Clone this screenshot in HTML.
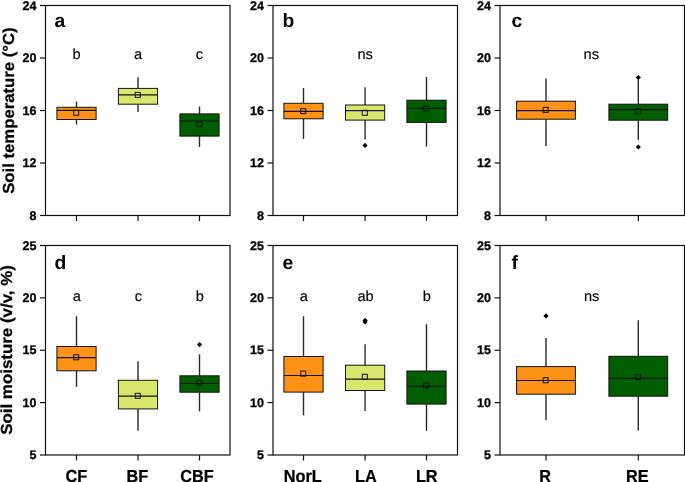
<!DOCTYPE html>
<html><head><meta charset="utf-8"><title>Soil temperature and moisture box plots</title>
<style>html,body{margin:0;padding:0;background:#fff;}body{width:685px;height:482px;overflow:hidden;}svg{display:block;}text{text-rendering:geometricPrecision;}</style>
</head><body>
<svg width="685" height="482" viewBox="0 0 685 482"><rect width="685" height="482" fill="#fff"/><line x1="40.0" y1="5.5" x2="45.5" y2="5.5" stroke="#111" stroke-width="1.2"/><text x="36.5" y="9.6" text-anchor="end" font-family="'Liberation Sans', Arial, sans-serif" font-weight="bold" font-size="12.5" fill="#000" stroke="#000" stroke-width="0.3">24</text><line x1="40.0" y1="58.0" x2="45.5" y2="58.0" stroke="#111" stroke-width="1.2"/><text x="36.5" y="62.1" text-anchor="end" font-family="'Liberation Sans', Arial, sans-serif" font-weight="bold" font-size="12.5" fill="#000" stroke="#000" stroke-width="0.3">20</text><line x1="40.0" y1="110.5" x2="45.5" y2="110.5" stroke="#111" stroke-width="1.2"/><text x="36.5" y="114.6" text-anchor="end" font-family="'Liberation Sans', Arial, sans-serif" font-weight="bold" font-size="12.5" fill="#000" stroke="#000" stroke-width="0.3">16</text><line x1="40.0" y1="163.0" x2="45.5" y2="163.0" stroke="#111" stroke-width="1.2"/><text x="36.5" y="167.1" text-anchor="end" font-family="'Liberation Sans', Arial, sans-serif" font-weight="bold" font-size="12.5" fill="#000" stroke="#000" stroke-width="0.3">12</text><line x1="40.0" y1="215.5" x2="45.5" y2="215.5" stroke="#111" stroke-width="1.2"/><text x="36.5" y="219.6" text-anchor="end" font-family="'Liberation Sans', Arial, sans-serif" font-weight="bold" font-size="12.5" fill="#000" stroke="#000" stroke-width="0.3">8</text><line x1="76.5" y1="215.5" x2="76.5" y2="221.0" stroke="#111" stroke-width="1.2"/><line x1="138.0" y1="215.5" x2="138.0" y2="221.0" stroke="#111" stroke-width="1.2"/><line x1="199.5" y1="215.5" x2="199.5" y2="221.0" stroke="#111" stroke-width="1.2"/><line x1="76.5" y1="101.6" x2="76.5" y2="107.3" stroke="#2a2a2a" stroke-width="1.4"/><line x1="76.5" y1="119.5" x2="76.5" y2="124.6" stroke="#2a2a2a" stroke-width="1.4"/><rect x="56.9" y="107.3" width="39.2" height="12.200000000000003" fill="#FE9216" stroke="#151515" stroke-width="1"/><line x1="56.9" y1="110.4" x2="96.1" y2="110.4" stroke="#151515" stroke-width="1.2"/><rect x="73.7" y="110.3" width="5" height="5" fill="none" stroke="#151515" stroke-width="1"/><line x1="138.0" y1="77.3" x2="138.0" y2="88.4" stroke="#2a2a2a" stroke-width="1.4"/><line x1="138.0" y1="104.2" x2="138.0" y2="112.0" stroke="#2a2a2a" stroke-width="1.4"/><rect x="118.4" y="88.4" width="39.2" height="15.799999999999997" fill="#D8E66C" stroke="#151515" stroke-width="1"/><line x1="118.4" y1="94.8" x2="157.6" y2="94.8" stroke="#151515" stroke-width="1.2"/><rect x="135.2" y="92.4" width="5" height="5" fill="none" stroke="#151515" stroke-width="1"/><line x1="199.5" y1="106.5" x2="199.5" y2="113.9" stroke="#2a2a2a" stroke-width="1.4"/><line x1="199.5" y1="136.1" x2="199.5" y2="146.9" stroke="#2a2a2a" stroke-width="1.4"/><rect x="179.9" y="113.9" width="39.2" height="22.19999999999999" fill="#005D00" stroke="#151515" stroke-width="1"/><line x1="179.9" y1="121.0" x2="219.1" y2="121.0" stroke="#151515" stroke-width="1.2"/><rect x="196.7" y="121.7" width="5" height="5" fill="none" stroke="#151515" stroke-width="1"/><text x="76.50" y="58.6" text-anchor="middle" font-family="'Liberation Sans', Arial, sans-serif" font-size="14.6" fill="#000" stroke="#000" stroke-width="0.15">b</text><text x="138.00" y="58.6" text-anchor="middle" font-family="'Liberation Sans', Arial, sans-serif" font-size="14.6" fill="#000" stroke="#000" stroke-width="0.15">a</text><text x="199.50" y="58.6" text-anchor="middle" font-family="'Liberation Sans', Arial, sans-serif" font-size="14.6" fill="#000" stroke="#000" stroke-width="0.15">c</text><rect x="45.5" y="5.5" width="184.5" height="210.0" fill="none" stroke="#111" stroke-width="1.2"/><text x="54.5" y="26.8" font-family="'Liberation Sans', Arial, sans-serif" font-weight="bold" font-size="19.3" fill="#000">a</text><line x1="267.5" y1="5.5" x2="273.0" y2="5.5" stroke="#111" stroke-width="1.2"/><text x="264.0" y="9.6" text-anchor="end" font-family="'Liberation Sans', Arial, sans-serif" font-weight="bold" font-size="12.5" fill="#000" stroke="#000" stroke-width="0.3">24</text><line x1="267.5" y1="58.0" x2="273.0" y2="58.0" stroke="#111" stroke-width="1.2"/><text x="264.0" y="62.1" text-anchor="end" font-family="'Liberation Sans', Arial, sans-serif" font-weight="bold" font-size="12.5" fill="#000" stroke="#000" stroke-width="0.3">20</text><line x1="267.5" y1="110.5" x2="273.0" y2="110.5" stroke="#111" stroke-width="1.2"/><text x="264.0" y="114.6" text-anchor="end" font-family="'Liberation Sans', Arial, sans-serif" font-weight="bold" font-size="12.5" fill="#000" stroke="#000" stroke-width="0.3">16</text><line x1="267.5" y1="163.0" x2="273.0" y2="163.0" stroke="#111" stroke-width="1.2"/><text x="264.0" y="167.1" text-anchor="end" font-family="'Liberation Sans', Arial, sans-serif" font-weight="bold" font-size="12.5" fill="#000" stroke="#000" stroke-width="0.3">12</text><line x1="267.5" y1="215.5" x2="273.0" y2="215.5" stroke="#111" stroke-width="1.2"/><text x="264.0" y="219.6" text-anchor="end" font-family="'Liberation Sans', Arial, sans-serif" font-weight="bold" font-size="12.5" fill="#000" stroke="#000" stroke-width="0.3">8</text><line x1="303.5" y1="215.5" x2="303.5" y2="221.0" stroke="#111" stroke-width="1.2"/><line x1="365.1" y1="215.5" x2="365.1" y2="221.0" stroke="#111" stroke-width="1.2"/><line x1="426.5" y1="215.5" x2="426.5" y2="221.0" stroke="#111" stroke-width="1.2"/><line x1="303.5" y1="88.0" x2="303.5" y2="103.3" stroke="#2a2a2a" stroke-width="1.4"/><line x1="303.5" y1="118.8" x2="303.5" y2="138.9" stroke="#2a2a2a" stroke-width="1.4"/><rect x="283.9" y="103.3" width="39.2" height="15.5" fill="#FE9216" stroke="#151515" stroke-width="1"/><line x1="283.9" y1="111.4" x2="323.1" y2="111.4" stroke="#151515" stroke-width="1.2"/><rect x="300.7" y="108.6" width="5" height="5" fill="none" stroke="#151515" stroke-width="1"/><line x1="365.1" y1="87.3" x2="365.1" y2="105.0" stroke="#2a2a2a" stroke-width="1.4"/><line x1="365.1" y1="120.1" x2="365.1" y2="139.6" stroke="#2a2a2a" stroke-width="1.4"/><rect x="345.5" y="105.0" width="39.2" height="15.099999999999994" fill="#D8E66C" stroke="#151515" stroke-width="1"/><line x1="345.5" y1="110.7" x2="384.70000000000005" y2="110.7" stroke="#151515" stroke-width="1.2"/><rect x="362.3" y="110.3" width="5" height="5" fill="none" stroke="#151515" stroke-width="1"/><path d="M365.1 142.8L367.70000000000005 145.4L365.1 148.0L362.5 145.4Z" fill="#000"/><line x1="426.5" y1="77.0" x2="426.5" y2="100.2" stroke="#2a2a2a" stroke-width="1.4"/><line x1="426.5" y1="122.4" x2="426.5" y2="146.6" stroke="#2a2a2a" stroke-width="1.4"/><rect x="406.9" y="100.2" width="39.2" height="22.200000000000003" fill="#005D00" stroke="#151515" stroke-width="1"/><line x1="406.9" y1="108.4" x2="446.1" y2="108.4" stroke="#151515" stroke-width="1.2"/><rect x="423.7" y="105.9" width="5" height="5" fill="none" stroke="#151515" stroke-width="1"/><text x="365.10" y="58.7" text-anchor="middle" font-family="'Liberation Sans', Arial, sans-serif" font-size="14.6" fill="#000" stroke="#000" stroke-width="0.15">ns</text><rect x="273.0" y="5.5" width="184.5" height="210.0" fill="none" stroke="#111" stroke-width="1.2"/><text x="282.5" y="26.8" font-family="'Liberation Sans', Arial, sans-serif" font-weight="bold" font-size="19.3" fill="#000">b</text><line x1="494.5" y1="5.5" x2="500.0" y2="5.5" stroke="#111" stroke-width="1.2"/><text x="491.0" y="9.6" text-anchor="end" font-family="'Liberation Sans', Arial, sans-serif" font-weight="bold" font-size="12.5" fill="#000" stroke="#000" stroke-width="0.3">24</text><line x1="494.5" y1="58.0" x2="500.0" y2="58.0" stroke="#111" stroke-width="1.2"/><text x="491.0" y="62.1" text-anchor="end" font-family="'Liberation Sans', Arial, sans-serif" font-weight="bold" font-size="12.5" fill="#000" stroke="#000" stroke-width="0.3">20</text><line x1="494.5" y1="110.5" x2="500.0" y2="110.5" stroke="#111" stroke-width="1.2"/><text x="491.0" y="114.6" text-anchor="end" font-family="'Liberation Sans', Arial, sans-serif" font-weight="bold" font-size="12.5" fill="#000" stroke="#000" stroke-width="0.3">16</text><line x1="494.5" y1="163.0" x2="500.0" y2="163.0" stroke="#111" stroke-width="1.2"/><text x="491.0" y="167.1" text-anchor="end" font-family="'Liberation Sans', Arial, sans-serif" font-weight="bold" font-size="12.5" fill="#000" stroke="#000" stroke-width="0.3">12</text><line x1="494.5" y1="215.5" x2="500.0" y2="215.5" stroke="#111" stroke-width="1.2"/><text x="491.0" y="219.6" text-anchor="end" font-family="'Liberation Sans', Arial, sans-serif" font-weight="bold" font-size="12.5" fill="#000" stroke="#000" stroke-width="0.3">8</text><line x1="546.0" y1="215.5" x2="546.0" y2="221.0" stroke="#111" stroke-width="1.2"/><line x1="638.3" y1="215.5" x2="638.3" y2="221.0" stroke="#111" stroke-width="1.2"/><line x1="546.0" y1="78.4" x2="546.0" y2="101.2" stroke="#2a2a2a" stroke-width="1.4"/><line x1="546.0" y1="119.2" x2="546.0" y2="145.9" stroke="#2a2a2a" stroke-width="1.4"/><rect x="516.6" y="101.2" width="58.8" height="18.0" fill="#FE9216" stroke="#151515" stroke-width="1"/><line x1="516.6" y1="110.7" x2="575.4" y2="110.7" stroke="#151515" stroke-width="1.2"/><rect x="543.2" y="107.4" width="5" height="5" fill="none" stroke="#151515" stroke-width="1"/><line x1="638.3" y1="77.6" x2="638.3" y2="104.2" stroke="#2a2a2a" stroke-width="1.4"/><line x1="638.3" y1="120.2" x2="638.3" y2="139.7" stroke="#2a2a2a" stroke-width="1.4"/><rect x="608.9" y="104.2" width="58.8" height="16.0" fill="#005D00" stroke="#151515" stroke-width="1"/><line x1="608.9" y1="109.7" x2="667.6999999999999" y2="109.7" stroke="#151515" stroke-width="1.2"/><rect x="635.5" y="108.7" width="5" height="5" fill="none" stroke="#151515" stroke-width="1"/><path d="M638.3 74.9L640.9 77.5L638.3 80.1L635.6999999999999 77.5Z" fill="#000"/><path d="M638.3 144.4L640.9 147.0L638.3 149.6L635.6999999999999 147.0Z" fill="#000"/><text x="591.25" y="58.7" text-anchor="middle" font-family="'Liberation Sans', Arial, sans-serif" font-size="14.6" fill="#000" stroke="#000" stroke-width="0.15">ns</text><rect x="500.0" y="5.5" width="184.5" height="210.0" fill="none" stroke="#111" stroke-width="1.2"/><text x="511.5" y="26.8" font-family="'Liberation Sans', Arial, sans-serif" font-weight="bold" font-size="19.3" fill="#000">c</text><line x1="40.0" y1="245.5" x2="45.5" y2="245.5" stroke="#111" stroke-width="1.2"/><text x="36.5" y="249.6" text-anchor="end" font-family="'Liberation Sans', Arial, sans-serif" font-weight="bold" font-size="12.5" fill="#000" stroke="#000" stroke-width="0.3">25</text><line x1="40.0" y1="297.875" x2="45.5" y2="297.875" stroke="#111" stroke-width="1.2"/><text x="36.5" y="301.975" text-anchor="end" font-family="'Liberation Sans', Arial, sans-serif" font-weight="bold" font-size="12.5" fill="#000" stroke="#000" stroke-width="0.3">20</text><line x1="40.0" y1="350.25" x2="45.5" y2="350.25" stroke="#111" stroke-width="1.2"/><text x="36.5" y="354.35" text-anchor="end" font-family="'Liberation Sans', Arial, sans-serif" font-weight="bold" font-size="12.5" fill="#000" stroke="#000" stroke-width="0.3">15</text><line x1="40.0" y1="402.625" x2="45.5" y2="402.625" stroke="#111" stroke-width="1.2"/><text x="36.5" y="406.725" text-anchor="end" font-family="'Liberation Sans', Arial, sans-serif" font-weight="bold" font-size="12.5" fill="#000" stroke="#000" stroke-width="0.3">10</text><line x1="40.0" y1="455.0" x2="45.5" y2="455.0" stroke="#111" stroke-width="1.2"/><text x="36.5" y="459.1" text-anchor="end" font-family="'Liberation Sans', Arial, sans-serif" font-weight="bold" font-size="12.5" fill="#000" stroke="#000" stroke-width="0.3">5</text><line x1="76.5" y1="455.0" x2="76.5" y2="460.5" stroke="#111" stroke-width="1.2"/><line x1="138.0" y1="455.0" x2="138.0" y2="460.5" stroke="#111" stroke-width="1.2"/><line x1="199.5" y1="455.0" x2="199.5" y2="460.5" stroke="#111" stroke-width="1.2"/><line x1="76.5" y1="316.2" x2="76.5" y2="346.5" stroke="#2a2a2a" stroke-width="1.4"/><line x1="76.5" y1="370.8" x2="76.5" y2="386.9" stroke="#2a2a2a" stroke-width="1.4"/><rect x="56.9" y="346.5" width="39.2" height="24.30000000000001" fill="#FE9216" stroke="#151515" stroke-width="1"/><line x1="56.9" y1="357.6" x2="96.1" y2="357.6" stroke="#151515" stroke-width="1.2"/><rect x="73.7" y="354.8" width="5" height="5" fill="none" stroke="#151515" stroke-width="1"/><line x1="138.0" y1="361.2" x2="138.0" y2="380.3" stroke="#2a2a2a" stroke-width="1.4"/><line x1="138.0" y1="408.9" x2="138.0" y2="430.7" stroke="#2a2a2a" stroke-width="1.4"/><rect x="118.4" y="380.3" width="39.2" height="28.599999999999966" fill="#D8E66C" stroke="#151515" stroke-width="1"/><line x1="118.4" y1="396.2" x2="157.6" y2="396.2" stroke="#151515" stroke-width="1.2"/><rect x="135.2" y="393.3" width="5" height="5" fill="none" stroke="#151515" stroke-width="1"/><line x1="199.5" y1="354.3" x2="199.5" y2="375.8" stroke="#2a2a2a" stroke-width="1.4"/><line x1="199.5" y1="392.2" x2="199.5" y2="411.3" stroke="#2a2a2a" stroke-width="1.4"/><rect x="179.9" y="375.8" width="39.2" height="16.399999999999977" fill="#005D00" stroke="#151515" stroke-width="1"/><line x1="179.9" y1="383.5" x2="219.1" y2="383.5" stroke="#151515" stroke-width="1.2"/><rect x="196.7" y="380.2" width="5" height="5" fill="none" stroke="#151515" stroke-width="1"/><path d="M199.5 342.0L202.1 344.6L199.5 347.20000000000005L196.9 344.6Z" fill="#000"/><text x="76.90" y="300.5" text-anchor="middle" font-family="'Liberation Sans', Arial, sans-serif" font-size="14.6" fill="#000" stroke="#000" stroke-width="0.15">a</text><text x="138.40" y="300.5" text-anchor="middle" font-family="'Liberation Sans', Arial, sans-serif" font-size="14.6" fill="#000" stroke="#000" stroke-width="0.15">c</text><text x="199.90" y="300.5" text-anchor="middle" font-family="'Liberation Sans', Arial, sans-serif" font-size="14.6" fill="#000" stroke="#000" stroke-width="0.15">b</text><text transform="translate(76.25,482.2) scale(1,1.07)" text-anchor="middle" font-family="'Liberation Sans', Arial, sans-serif" font-weight="bold" font-size="16.3" fill="#000" stroke="#000" stroke-width="0.25">CF</text><text transform="translate(137.25,482.2) scale(1,1.07)" text-anchor="middle" font-family="'Liberation Sans', Arial, sans-serif" font-weight="bold" font-size="16.3" fill="#000" stroke="#000" stroke-width="0.25">BF</text><text transform="translate(196.95,482.2) scale(1,1.07)" text-anchor="middle" font-family="'Liberation Sans', Arial, sans-serif" font-weight="bold" font-size="16.3" fill="#000" stroke="#000" stroke-width="0.25">CBF</text><rect x="45.5" y="245.5" width="184.5" height="209.5" fill="none" stroke="#111" stroke-width="1.2"/><text x="54.5" y="269.1" font-family="'Liberation Sans', Arial, sans-serif" font-weight="bold" font-size="19.3" fill="#000">d</text><line x1="267.5" y1="245.5" x2="273.0" y2="245.5" stroke="#111" stroke-width="1.2"/><text x="264.0" y="249.6" text-anchor="end" font-family="'Liberation Sans', Arial, sans-serif" font-weight="bold" font-size="12.5" fill="#000" stroke="#000" stroke-width="0.3">25</text><line x1="267.5" y1="297.875" x2="273.0" y2="297.875" stroke="#111" stroke-width="1.2"/><text x="264.0" y="301.975" text-anchor="end" font-family="'Liberation Sans', Arial, sans-serif" font-weight="bold" font-size="12.5" fill="#000" stroke="#000" stroke-width="0.3">20</text><line x1="267.5" y1="350.25" x2="273.0" y2="350.25" stroke="#111" stroke-width="1.2"/><text x="264.0" y="354.35" text-anchor="end" font-family="'Liberation Sans', Arial, sans-serif" font-weight="bold" font-size="12.5" fill="#000" stroke="#000" stroke-width="0.3">15</text><line x1="267.5" y1="402.625" x2="273.0" y2="402.625" stroke="#111" stroke-width="1.2"/><text x="264.0" y="406.725" text-anchor="end" font-family="'Liberation Sans', Arial, sans-serif" font-weight="bold" font-size="12.5" fill="#000" stroke="#000" stroke-width="0.3">10</text><line x1="267.5" y1="455.0" x2="273.0" y2="455.0" stroke="#111" stroke-width="1.2"/><text x="264.0" y="459.1" text-anchor="end" font-family="'Liberation Sans', Arial, sans-serif" font-weight="bold" font-size="12.5" fill="#000" stroke="#000" stroke-width="0.3">5</text><line x1="303.5" y1="455.0" x2="303.5" y2="460.5" stroke="#111" stroke-width="1.2"/><line x1="365.1" y1="455.0" x2="365.1" y2="460.5" stroke="#111" stroke-width="1.2"/><line x1="426.5" y1="455.0" x2="426.5" y2="460.5" stroke="#111" stroke-width="1.2"/><line x1="303.5" y1="316.2" x2="303.5" y2="356.5" stroke="#2a2a2a" stroke-width="1.4"/><line x1="303.5" y1="392.1" x2="303.5" y2="415.3" stroke="#2a2a2a" stroke-width="1.4"/><rect x="283.9" y="356.5" width="39.2" height="35.60000000000002" fill="#FE9216" stroke="#151515" stroke-width="1"/><line x1="283.9" y1="375.5" x2="323.1" y2="375.5" stroke="#151515" stroke-width="1.2"/><rect x="300.7" y="371.1" width="5" height="5" fill="none" stroke="#151515" stroke-width="1"/><line x1="365.1" y1="344.2" x2="365.1" y2="365.2" stroke="#2a2a2a" stroke-width="1.4"/><line x1="365.1" y1="390.5" x2="365.1" y2="411.1" stroke="#2a2a2a" stroke-width="1.4"/><rect x="345.5" y="365.2" width="39.2" height="25.30000000000001" fill="#D8E66C" stroke="#151515" stroke-width="1"/><line x1="345.5" y1="379.1" x2="384.70000000000005" y2="379.1" stroke="#151515" stroke-width="1.2"/><rect x="362.3" y="374.3" width="5" height="5" fill="none" stroke="#151515" stroke-width="1"/><path d="M365.1 317.79999999999995L367.70000000000005 320.4L365.1 323.0L362.5 320.4Z" fill="#000"/><path d="M365.1 319.4L367.70000000000005 322.0L365.1 324.6L362.5 322.0Z" fill="#000"/><line x1="426.5" y1="324.2" x2="426.5" y2="371.0" stroke="#2a2a2a" stroke-width="1.4"/><line x1="426.5" y1="404.1" x2="426.5" y2="430.8" stroke="#2a2a2a" stroke-width="1.4"/><rect x="406.9" y="371.0" width="39.2" height="33.10000000000002" fill="#005D00" stroke="#151515" stroke-width="1"/><line x1="406.9" y1="386.4" x2="446.1" y2="386.4" stroke="#151515" stroke-width="1.2"/><rect x="423.7" y="383.0" width="5" height="5" fill="none" stroke="#151515" stroke-width="1"/><text x="303.90" y="300.5" text-anchor="middle" font-family="'Liberation Sans', Arial, sans-serif" font-size="14.6" fill="#000" stroke="#000" stroke-width="0.15">a</text><text x="365.50" y="300.5" text-anchor="middle" font-family="'Liberation Sans', Arial, sans-serif" font-size="14.6" fill="#000" stroke="#000" stroke-width="0.15">ab</text><text x="426.90" y="300.5" text-anchor="middle" font-family="'Liberation Sans', Arial, sans-serif" font-size="14.6" fill="#000" stroke="#000" stroke-width="0.15">b</text><text transform="translate(302.75,482.2) scale(1,1.07)" text-anchor="middle" font-family="'Liberation Sans', Arial, sans-serif" font-weight="bold" font-size="16.3" fill="#000" stroke="#000" stroke-width="0.25">NorL</text><text transform="translate(365.95,482.2) scale(1,1.07)" text-anchor="middle" font-family="'Liberation Sans', Arial, sans-serif" font-weight="bold" font-size="16.3" fill="#000" stroke="#000" stroke-width="0.25">LA</text><text transform="translate(426.75,482.2) scale(1,1.07)" text-anchor="middle" font-family="'Liberation Sans', Arial, sans-serif" font-weight="bold" font-size="16.3" fill="#000" stroke="#000" stroke-width="0.25">LR</text><rect x="273.0" y="245.5" width="184.5" height="209.5" fill="none" stroke="#111" stroke-width="1.2"/><text x="282.5" y="269.1" font-family="'Liberation Sans', Arial, sans-serif" font-weight="bold" font-size="19.3" fill="#000">e</text><line x1="494.5" y1="245.5" x2="500.0" y2="245.5" stroke="#111" stroke-width="1.2"/><text x="491.0" y="249.6" text-anchor="end" font-family="'Liberation Sans', Arial, sans-serif" font-weight="bold" font-size="12.5" fill="#000" stroke="#000" stroke-width="0.3">25</text><line x1="494.5" y1="297.875" x2="500.0" y2="297.875" stroke="#111" stroke-width="1.2"/><text x="491.0" y="301.975" text-anchor="end" font-family="'Liberation Sans', Arial, sans-serif" font-weight="bold" font-size="12.5" fill="#000" stroke="#000" stroke-width="0.3">20</text><line x1="494.5" y1="350.25" x2="500.0" y2="350.25" stroke="#111" stroke-width="1.2"/><text x="491.0" y="354.35" text-anchor="end" font-family="'Liberation Sans', Arial, sans-serif" font-weight="bold" font-size="12.5" fill="#000" stroke="#000" stroke-width="0.3">15</text><line x1="494.5" y1="402.625" x2="500.0" y2="402.625" stroke="#111" stroke-width="1.2"/><text x="491.0" y="406.725" text-anchor="end" font-family="'Liberation Sans', Arial, sans-serif" font-weight="bold" font-size="12.5" fill="#000" stroke="#000" stroke-width="0.3">10</text><line x1="494.5" y1="455.0" x2="500.0" y2="455.0" stroke="#111" stroke-width="1.2"/><text x="491.0" y="459.1" text-anchor="end" font-family="'Liberation Sans', Arial, sans-serif" font-weight="bold" font-size="12.5" fill="#000" stroke="#000" stroke-width="0.3">5</text><line x1="546.0" y1="455.0" x2="546.0" y2="460.5" stroke="#111" stroke-width="1.2"/><line x1="638.3" y1="455.0" x2="638.3" y2="460.5" stroke="#111" stroke-width="1.2"/><line x1="546.0" y1="337.9" x2="546.0" y2="366.6" stroke="#2a2a2a" stroke-width="1.4"/><line x1="546.0" y1="394.2" x2="546.0" y2="420.2" stroke="#2a2a2a" stroke-width="1.4"/><rect x="516.6" y="366.6" width="58.8" height="27.599999999999966" fill="#FE9216" stroke="#151515" stroke-width="1"/><line x1="516.6" y1="380.5" x2="575.4" y2="380.5" stroke="#151515" stroke-width="1.2"/><rect x="543.2" y="377.8" width="5" height="5" fill="none" stroke="#151515" stroke-width="1"/><path d="M546.0 313.29999999999995L548.6 315.9L546.0 318.5L543.4 315.9Z" fill="#000"/><line x1="638.3" y1="320.2" x2="638.3" y2="356.3" stroke="#2a2a2a" stroke-width="1.4"/><line x1="638.3" y1="396.2" x2="638.3" y2="430.4" stroke="#2a2a2a" stroke-width="1.4"/><rect x="608.9" y="356.3" width="58.8" height="39.89999999999998" fill="#005D00" stroke="#151515" stroke-width="1"/><line x1="608.9" y1="378.4" x2="667.6999999999999" y2="378.4" stroke="#151515" stroke-width="1.2"/><rect x="635.5" y="374.6" width="5" height="5" fill="none" stroke="#151515" stroke-width="1"/><text x="591.65" y="300.5" text-anchor="middle" font-family="'Liberation Sans', Arial, sans-serif" font-size="14.6" fill="#000" stroke="#000" stroke-width="0.15">ns</text><text transform="translate(545.20,482.2) scale(1,1.07)" text-anchor="middle" font-family="'Liberation Sans', Arial, sans-serif" font-weight="bold" font-size="16.3" fill="#000" stroke="#000" stroke-width="0.25">R</text><text transform="translate(637.40,482.2) scale(1,1.07)" text-anchor="middle" font-family="'Liberation Sans', Arial, sans-serif" font-weight="bold" font-size="16.3" fill="#000" stroke="#000" stroke-width="0.25">RE</text><rect x="500.0" y="245.5" width="184.5" height="209.5" fill="none" stroke="#111" stroke-width="1.2"/><text x="511.5" y="269.1" font-family="'Liberation Sans', Arial, sans-serif" font-weight="bold" font-size="19.3" fill="#000">f</text><text transform="translate(13.7,110.6) rotate(-90) scale(1.045,1)" text-anchor="middle" font-family="'Liberation Sans', Arial, sans-serif" font-weight="bold" font-size="16" fill="#000" stroke="#000" stroke-width="0.25">Soil temperature (°C)</text><text transform="translate(12.0,350.0) rotate(-90) scale(1.056,1)" text-anchor="middle" font-family="'Liberation Sans', Arial, sans-serif" font-weight="bold" font-size="16" fill="#000" stroke="#000" stroke-width="0.25">Soil moisture (v/v, %)</text></svg>
</body></html>
